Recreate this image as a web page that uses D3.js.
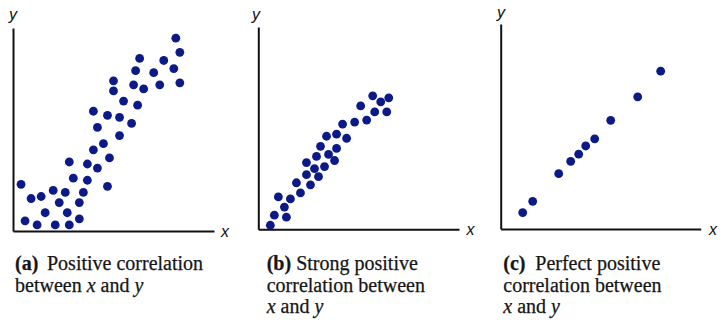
<!DOCTYPE html>
<html>
<head>
<meta charset="utf-8">
<script src="https://cdn.jsdelivr.net/npm/d3@7"></script>
<style>
  html, body { margin: 0; padding: 0; background: #ffffff; }
  svg { display: block; }
  .cap text, .cap tspan { font-family: "Liberation Serif", "Tinos", "Times New Roman", serif; }
</style>
</head>
<body>
<svg id="chart" width="724" height="323"></svg>
<script>
// ---- Data (arbitrary units 0–100 on each axis) ----
const panelAX = [4, 6, 9, 12, 14, 16, 20, 21, 23, 26, 27, 28, 28, 30, 33, 33, 35, 37, 37, 40, 40, 42, 42, 45, 47, 47, 48, 50, 50, 53, 53, 55, 59, 60, 61, 62, 63, 65, 70, 73, 75, 80, 81, 83, 83];
const panelAY = [23, 5, 16, 3, 17, 9, 20, 3, 14, 19, 9, 3, 34, 26, 14, 6, 19, 33, 25, 40, 59, 51, 31, 43, 22, 57, 36, 69, 74, 47, 56, 64, 53, 72, 79, 62, 85, 70, 78, 72, 84, 80, 95, 73, 88];

const panelBX = [6, 8, 10, 13, 14, 16, 19, 21, 24, 24, 26, 28, 29, 30, 31, 33, 34, 35, 38, 39, 39, 42, 44, 48, 51, 54, 57, 58, 61, 64, 65];
const panelBY = [2, 7, 16, 11, 6, 15, 23, 18, 33, 27, 22, 30, 36, 26, 41, 31, 46, 37, 34, 47, 40, 52, 45, 53, 61, 54, 66, 58, 63, 58, 65];

const panelCX = [11, 16, 29, 35, 39, 42.5, 47, 55, 68.5, 80];
const panelCY = [8, 13.5, 27, 33, 36.5, 40.5, 44, 53, 64.5, 77];

const captionLabels = ["(a)", "(b)", "(c)"];
const captionLines = [
  ["Positive correlation", "between |x| and |y|"],
  ["Strong positive", "correlation between", "|x| and |y|"],
  ["Perfect positive", "correlation between", "|x| and |y|"]
];
const axisLabelX = "x";
const axisLabelY = "y";

// ---- Layout ----
const panels = [
  { xs: panelAX, ys: panelAY, left: 13,    right: 214,   top: 28, bottom: 231,   capX: 15,    capGap: 32,
    xl: [225, 237], yl: [13, 20] },
  { xs: panelBX, ys: panelBY, left: 258.3, right: 459,   top: 27, bottom: 229.3, capX: 266.7, capGap: 29.5,
    xl: [470.5, 235], yl: [256, 20] },
  { xs: panelCX, ys: panelCY, left: 500.7, right: 700.7, top: 24, bottom: 229,   capX: 503.3, capGap: 32,
    xl: [713, 235], yl: [501, 18] }
];

const svg = d3.select("#chart");
const dotColor = "#0b1a86";
const inkColor = "#161616";

panels.forEach((p, i) => {
  const x = d3.scaleLinear().domain([0, 100]).range([p.left, p.right]);
  const y = d3.scaleLinear().domain([0, 100]).range([p.bottom, p.top]);
  const g = svg.append("g");

  // axes (no ticks)
  const xAxis = g.append("g").attr("transform", `translate(0,${p.bottom})`)
    .call(d3.axisBottom(x).ticks(0).tickSizeOuter(0));
  const yAxis = g.append("g").attr("transform", `translate(${p.left},0)`)
    .call(d3.axisLeft(y).ticks(0).tickSizeOuter(0));
  [xAxis, yAxis].forEach(a => a.select(".domain")
    .attr("stroke", "#111").attr("stroke-width", 2));

  // axis letters
  g.append("text").attr("x", p.xl[0]).attr("y", p.xl[1])
    .attr("text-anchor", "middle")
    .attr("font-family", "'Liberation Sans', Arial, sans-serif")
    .attr("font-style", "italic").attr("font-size", 16)
    .attr("fill", "#111").text(axisLabelX);
  g.append("text").attr("x", p.yl[0]).attr("y", p.yl[1])
    .attr("text-anchor", "middle")
    .attr("font-family", "'Liberation Sans', Arial, sans-serif")
    .attr("font-style", "italic").attr("font-size", 16)
    .attr("fill", "#111").text(axisLabelY);

  // dots
  const pts = p.xs.map((v, k) => ({ x: v, y: p.ys[k] }));
  g.selectAll("circle").data(pts).join("circle")
    .attr("cx", d => x(d.x)).attr("cy", d => y(d.y))
    .attr("r", 4.4).attr("fill", dotColor);

  // caption
  const cap = g.append("g").attr("class", "cap")
    .attr("font-size", 20).attr("fill", inkColor)
    .attr("stroke", inkColor).attr("stroke-width", 0.25);
  captionLines[i].forEach((line, li) => {
    const t = cap.append("text").attr("x", p.capX).attr("y", 270 + li * 21.5);
    let startX = p.capX;
    if (li === 0) {
      t.append("tspan").attr("font-weight", "bold").text(captionLabels[i]);
      startX = p.capX + p.capGap;
    }
    const parts = line.split("|");
    parts.forEach((part, pi) => {
      if (part === "") return;
      const ts = t.append("tspan").text(part);
      if (pi === 0 && li === 0) ts.attr("x", startX);
      if (pi % 2 === 1) ts.attr("font-style", "italic");
    });
  });
});
</script>
</body>
</html>
